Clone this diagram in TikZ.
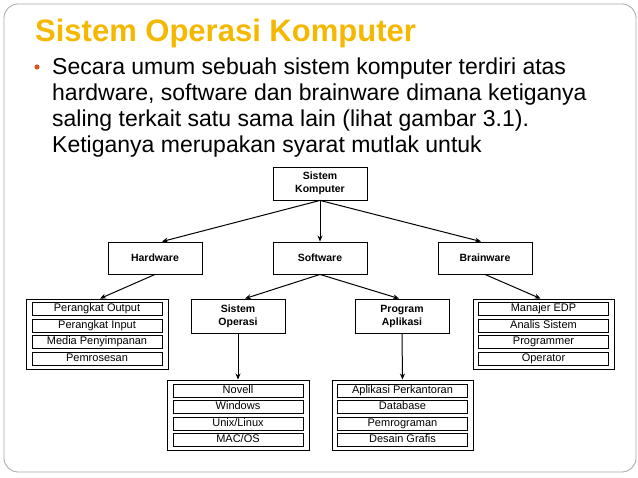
\documentclass[tikz,border=0pt]{standalone}
\usepackage{fontspec}
\setmainfont{Liberation Sans}
\usetikzlibrary{arrows.meta}
\definecolor{ttl}{HTML}{F5B800}
\definecolor{bul}{HTML}{D9541E}
\begin{document}
\begin{tikzpicture}[x=1pt,y=-1pt,
  box/.style={draw,line width=0.9pt,fill=white,inner sep=0pt,font=\fontsize{10.5}{13}\selectfont\bfseries,align=center},
  outer/.style={draw,line width=0.9pt,fill=white,inner sep=0pt},
  item/.style={draw,line width=0.9pt,inner sep=0pt,text height=8pt,text depth=2pt,font=\fontsize{11}{12}\selectfont},
  arr/.style={line width=1pt,-{Stealth[length=6pt,width=5pt]}}]
\useasboundingbox (0,0) rectangle (638,478);
\draw[gray!70,line width=0.8pt,rounded corners=14pt] (4,4) rectangle (636,472);
\node[anchor=base west,text=ttl,font=\fontsize{31}{33}\selectfont\bfseries,inner sep=0pt] (title) at (35,42) {Sistem Operasi Komputer};
\fill[bul] (37,67) circle (2.6pt);
\node[anchor=base west,font=\fontsize{23}{26}\selectfont,inner sep=0pt] (l1) at (52,75) {Secara umum sebuah sistem komputer terdiri atas};
\node[anchor=base west,font=\fontsize{23}{26}\selectfont,inner sep=0pt] (l2) at (52,101) {hardware, software dan brainware dimana ketiganya};
\node[anchor=base west,font=\fontsize{23}{26}\selectfont,inner sep=0pt] (l3) at (52,127) {saling terkait satu sama lain (lihat gambar 3.1).};
\node[anchor=base west,font=\fontsize{23}{26}\selectfont,inner sep=0pt] (l4) at (52,153) {Ketiganya merupakan syarat mutlak untuk};
\fill[white] (20,159) rectangle (625,462);
% main boxes
\node[box,minimum width=94pt,minimum height=33pt] (sk) at (320,183.5) {Sistem\\Komputer};
\node[box,minimum width=94pt,minimum height=32pt] (hw) at (155,258) {Hardware};
\node[box,minimum width=94pt,minimum height=32pt] (sw) at (320,258) {Software};
\node[box,minimum width=94pt,minimum height=32pt] (bw) at (485,258) {Brainware};
\node[box,minimum width=94pt,minimum height=34pt] (so) at (238,316) {Sistem\\Operasi};
\node[box,minimum width=94pt,minimum height=34pt] (pa) at (402,316) {Program\\Aplikasi};
% list containers
\node[outer,minimum width=142pt,minimum height=70pt] (hl) at (97,334) {};
\node[outer,minimum width=141pt,minimum height=70pt] (bl) at (543.5,334) {};
\node[outer,minimum width=142pt,minimum height=70pt] (ol) at (238,415) {};
\node[outer,minimum width=141pt,minimum height=70pt] (al) at (402.5,415) {};
% items
\foreach \t [count=\i] in {Perangkat Output,Perangkat Input,Media Penyimpanan,Pemrosesan}
  \node[item,minimum width=130pt,minimum height=13pt] (h\i) at (97,292.5+16.5*\i) {\t};
\foreach \t [count=\i] in {Manajer EDP,Analis Sistem,Programmer,Operator}
  \node[item,minimum width=130pt,minimum height=13pt] (b\i) at (543.5,292.5+16.5*\i) {\t};
\foreach \t [count=\i] in {Novell,Windows,Unix/Linux,MAC/OS}
  \node[item,minimum width=130pt,minimum height=13pt] (o\i) at (238,374+16.5*\i) {\t};
\foreach \t [count=\i] in {Aplikasi Perkantoran,Database,Pemrograman,Desain Grafis}
  \node[item,minimum width=130pt,minimum height=13pt] (a\i) at (402.5,374+16.5*\i) {\t};
% arrows
\draw[arr] (sk.south) -- ([xshift=7pt]hw.north);
\draw[arr] (sk.south) -- (sw.north);
\draw[arr] (sk.south) -- ([xshift=-4pt]bw.north);
\draw[arr] (hw.south) -- ([xshift=3pt]hl.north);
\draw[arr] (sw.south) -- ([xshift=7pt]so.north);
\draw[arr] (sw.south) -- ([xshift=-3pt]pa.north);
\draw[arr] (bw.south) -- ([xshift=-3pt]bl.north);
\draw[arr] (so.south) -- (ol.north);
\draw[arr] (pa.south) -- (al.north);
\end{tikzpicture}
\end{document}
